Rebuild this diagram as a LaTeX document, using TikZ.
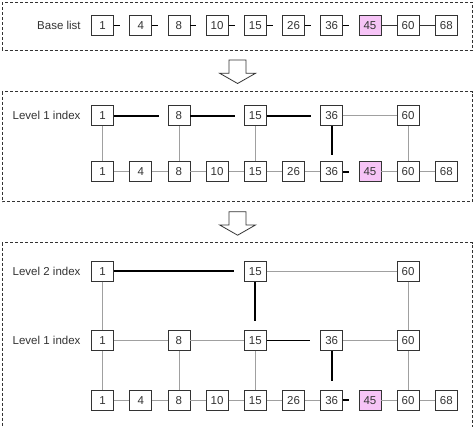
\documentclass[tikz,border=0pt]{standalone}
\usepackage{fontspec}
\setmainfont{Liberation Sans}
\usetikzlibrary{calc}
\definecolor{ink}{RGB}{51,51,51}
\definecolor{thin}{RGB}{160,160,160}
\definecolor{pinkf}{RGB}{246,196,246}
\begin{document}
\begin{tikzpicture}[x=1pt,y=-1pt,
  box/.style={draw=ink,line width=0.8pt,minimum width=22pt,minimum height=20pt,inner sep=0pt,text=ink,font=\fontsize{11.5}{12}\selectfont,fill=white},
  hl/.style={box,fill=pinkf},
  lbl/.style={anchor=west,text=ink,font=\fontsize{11.5}{12}\selectfont,inner sep=0pt},
  panel/.style={draw=ink,line width=0.8pt,dash pattern=on 3pt off 2pt},
  gl/.style={draw=thin,line width=0.8pt},
  bl/.style={draw=black,line width=1.7pt},
  harrow/.style={draw=ink,line width=0.8pt,fill=white,line join=miter}]
\useasboundingbox (0,0) rectangle (474,427);
% panels
\draw[panel] (2,2.5) rectangle (472.5,50);
\draw[panel] (2,91.7) rectangle (472.5,201.7);
\draw[panel] (2,242.7) rectangle (472.5,440);
% hollow arrows
\foreach \ay in {60,211.7}{
  \draw[harrow] (229,\ay) -- (246,\ay) -- (246,\ay+13.3) -- (255.5,\ay+13.3) -- (237.6,\ay+23.5) -- (219.7,\ay+13.3) -- (229,\ay+13.3) -- cycle;
}
% ---------- panel 1 ----------
\node[lbl] (lb0) at (37,25.5) {Base list};
\foreach \i/\v in {0/1,1/4,2/8,3/10,4/15,5/26,6/36,8/60,9/68}{
  \node[box] (a\i) at (102.5+38.2*\i,25.5) {\v};
}
\node[hl] (a7) at (102.5+38.2*7,25.5) {45};
\foreach \i in {0,...,6}{\draw[bl] (a\i.east) -- ++(6,0);}
\draw[draw=ink,line width=0.8pt] (a7) -- (a8);
\draw[draw=ink,line width=0.8pt] (a8) -- (a9);
% ---------- panel 2 ----------
\node[lbl] (lb1) at (12.5,115.7) {Level 1 index};
\foreach \i/\v in {0/1,1/4,2/8,3/10,4/15,5/26,6/36,8/60,9/68}{
  \node[box] (b\i) at (102.5+38.2*\i,171.7) {\v};
}
\node[hl] (b7) at (102.5+38.2*7,171.7) {45};
\foreach \i/\v in {0/1,2/8,4/15,6/36,8/60}{\node[box] (c\i) at (102.5+38.2*\i,115.7) {\v};}
\foreach \i/\j in {0/1,1/2,2/3,3/4,4/5,5/6,7/8,8/9}{\draw[gl] (b\i) -- (b\j);}
\draw[bl] (b6.east) -- ++(6,0);
\draw[bl] (c0.east) -- ($(c2.west)+(-9,0)$);
\draw[bl] (c2.east) -- ($(c4.west)+(-9,0)$);
\draw[bl] (c4.east) -- ($(c6.west)+(-9,0)$);
\draw[gl] (c6) -- (c8);
\foreach \i in {0,2,4,8}{\draw[gl] (c\i) -- (b\i);}
\draw[bl] (c6.south) -- ($(b6.north)+(0,-6)$);
% ---------- panel 3 ----------
\node[lbl] (lb2) at (12.5,271.3) {Level 2 index};
\node[lbl] (lb3) at (12.5,340.5) {Level 1 index};
\foreach \i/\v in {0/1,1/4,2/8,3/10,4/15,5/26,6/36,8/60,9/68}{
  \node[box] (d\i) at (102.5+38.2*\i,400.3) {\v};
}
\node[hl] (d7) at (102.5+38.2*7,400.3) {45};
\foreach \i/\v in {0/1,2/8,4/15,6/36,8/60}{\node[box] (e\i) at (102.5+38.2*\i,340.5) {\v};}
\foreach \i/\v in {0/1,4/15,8/60}{\node[box] (f\i) at (102.5+38.2*\i,271.3) {\v};}
\foreach \i/\j in {0/1,1/2,2/3,3/4,4/5,5/6,7/8,8/9}{\draw[gl] (d\i) -- (d\j);}
\draw[bl] (d6.east) -- ++(6,0);
\draw[gl] (e0) -- (e2);
\draw[gl] (e2) -- (e4);
\draw[bl] (e4.east) -- ($(e6.west)+(-10,0)$);
\draw[gl] (e6) -- (e8);
\foreach \i in {0,2,4,8}{\draw[gl] (e\i) -- (d\i);}
\draw[bl] (e6.south) -- ($(d6.north)+(0,-9)$);
\draw[bl] (f0.east) -- ($(f4.west)+(-10,0)$);
\draw[gl] (f4) -- (f8);
\foreach \i in {0,8}{\draw[gl] (f\i) -- (e\i);}
\draw[bl] (f4.south) -- ($(e4.north)+(0,-9)$);
\end{tikzpicture}
\end{document}
